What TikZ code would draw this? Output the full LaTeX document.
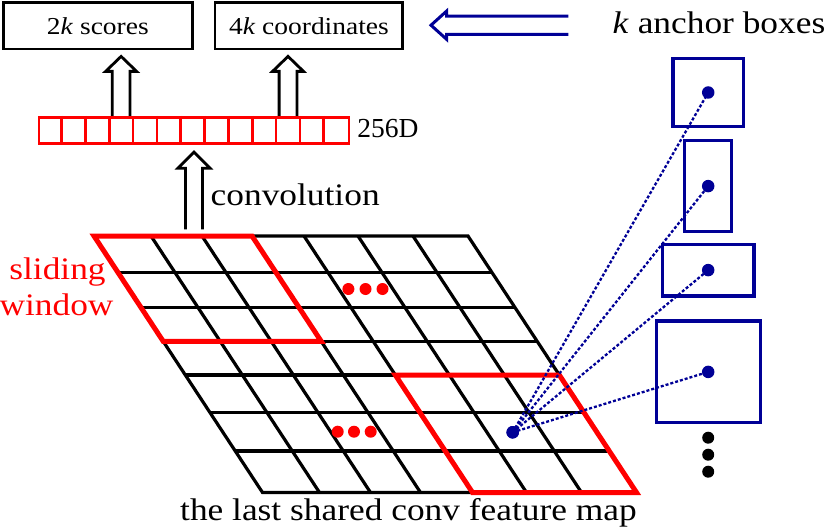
\documentclass[tikz,border=0pt]{standalone}
\usepackage{fontspec}
\setmainfont[FakeStretch=1.13]{Liberation Serif}
\newfontfamily\plainserif{Liberation Serif}
\usetikzlibrary{calc}
\definecolor{ancblue}{RGB}{0,0,150}
\newcommand{\bigtxt}{\fontsize{31.3}{36}\selectfont}
\newcommand{\smalltxt}{\fontsize{24.3}{28}\selectfont}
\newcommand{\HollowUp}[5]{%
  \draw[hollowarrow] let \p1=(#1), \p2=(#2) in
    (\x1-#3pt,\y1) -- (\x1-#3pt,\y2-#5pt) -- (\x1-#4pt,\y2-#5pt) -- (\x1,\y2)
    -- (\x1+#4pt,\y2-#5pt) -- (\x1+#3pt,\y2-#5pt) -- (\x1+#3pt,\y1);}
\begin{document}
\begin{tikzpicture}[x=1pt,y=-1pt,
  gridline/.style={line width=3.2pt, draw=black},
  redwin/.style={line width=5pt, draw=red, line join=miter},
  labelbox/.style={draw=black, line width=2.7pt, inner sep=0pt, minimum height=46.3pt},
  barcell/.style={draw=red, line width=2.7pt},
  hollowarrow/.style={draw=black, line width=2.8pt, line join=miter},
  bluearrow/.style={draw=ancblue, line width=3pt, line join=miter},
  anchorbox/.style={draw=ancblue, line width=3.2pt, inner sep=0pt},
  ancdot/.style={circle, fill=ancblue, inner sep=0pt, minimum size=12.5pt},
  reddot/.style={circle, fill=red, inner sep=0pt, minimum size=12pt},
  blackdot/.style={circle, fill=black, inner sep=0pt, minimum size=12pt},
  ancline/.style={draw=ancblue, line width=2.3pt, dash pattern=on 3pt off 2pt},
  txt/.style={inner sep=0pt, outer sep=0pt}
]
\useasboundingbox (0,0) rectangle (827,532);

% ---------- feature map grid ----------
\def\shear{0.65692}
\foreach \y in {272.3,307.5,341.3,375,412.3,451}
  \draw[gridline] ({94+\shear*(\y-236)},\y) -- ({468+\shear*(\y-236)},\y);
\foreach \t in {151,202,252,304,358,413}
  \draw[gridline] (\t,236) -- (\t+168.5,492.5);
\draw[gridline, line join=miter] (94,236) -- (468,236) -- (636.5,492.5) -- (262.5,492.5) -- cycle;

% sliding windows
\draw[redwin] (94,236) -- (252,236) -- (321.2,341.3) -- (163.2,341.3) -- cycle;
\draw[redwin] (395.3,375) -- (559.3,375) -- (636.5,492.5) -- (472.5,492.5) -- cycle;

% ellipses
\node[reddot] (u1) at (348.4,289) {};
\node[reddot] (u2) at (365.5,289) {};
\node[reddot] (u3) at (382.5,289) {};
\node[reddot] (l1) at (337.7,431.7) {};
\node[reddot] (l2) at (354,431.7) {};
\node[reddot] (l3) at (370.7,431.7) {};

% ---------- texts ----------
\node[txt, anchor=base] (maptxt) at (408.5,520) {\bigtxt the last shared conv feature map};
\node[txt, anchor=base, text=red] (sw1) at (57.5,279) {\bigtxt sliding};
\node[txt, anchor=base, text=red] (sw2) at (56.5,315) {\bigtxt window};
\node[txt, anchor=base west] (convtxt) at (210.7,205) {\bigtxt convolution};
\node[txt, anchor=base west] (anctxt) at (612.7,34) {\bigtxt\textit{k} anchor boxes};

% ---------- output boxes ----------
\node[labelbox, minimum width=189pt] (scores) at (97.8,25.9) {\smalltxt 2\textit{k} scores};
\node[labelbox, minimum width=187.7pt] (coords) at (308.9,25.9) {\smalltxt 4\textit{k} coordinates};

% ---------- 256D bar ----------
\node[draw=red, line width=2.7pt, inner sep=0pt, minimum width=310pt, minimum height=26pt] (bar) at (194,130.3) {};
\foreach \i in {1,...,12}
  \draw[barcell] ($(bar.north west)+(\i*23.846,0)$) -- ($(bar.south west)+(\i*23.846,0)$);
\node[txt, anchor=base west] (dimtxt) at (357.3,138) {\plainserif\fontsize{27.5}{30}\selectfont 256D};

% ---------- hollow arrows ----------
\coordinate (a1b) at ($(bar.north west)+(83.46,0)$);
\coordinate (a1t) at ($(scores.south)+(0,6)$);
\coordinate (a2b) at ($(bar.north west)+(250.38,0)$);
\coordinate (a2t) at ($(coords.south)+(0,6)$);
\coordinate (cvt) at ($(bar.south west)+(155,7.5)$);
\coordinate (cvb) at (194,229.3);
\HollowUp{a1b}{a1t}{8.9}{15.5}{15}
\HollowUp{a2b}{a2t}{8.9}{15.5}{15}
\HollowUp{cvb}{cvt}{8.5}{16}{16}

% blue arrow
\coordinate (bar0) at (568.3,25.2);
\coordinate (btip) at (431,25.2);
\draw[bluearrow] let \p1=(bar0), \p2=(btip) in
  (\x1,\y2+9.1pt) -- (\x2+15.7pt,\y2+9.1pt) -- (\x2+15.7pt,\y2+14.2pt) -- (\x2,\y2)
  -- (\x2+15.7pt,\y2-14.2pt) -- (\x2+15.7pt,\y2-9.1pt) -- (\x1,\y2-9.1pt);

% ---------- anchor boxes ----------
\node[anchorbox, minimum width=70.6pt, minimum height=67.9pt] (anc1) at (708.2,92.5) {};
\node[anchorbox, minimum width=47pt, minimum height=90.6pt] (anc2) at (708.2,186.1) {};
\node[anchorbox, minimum width=91.4pt, minimum height=51.6pt] (anc3) at (708.2,270.1) {};
\node[anchorbox, minimum width=104pt, minimum height=101.8pt] (anc4) at (708.2,371.9) {};

\node[ancdot] (c1) at (anc1.center) {};
\node[ancdot] (c2) at (anc2.center) {};
\node[ancdot] (c3) at (anc3.center) {};
\node[ancdot] (c4) at (anc4.center) {};
\node[ancdot] (gdot) at (512.7,432.3) {};

\foreach \c in {c1,c2,c3,c4}
  \draw[ancline] (gdot.center) -- (\c.center);
\node[ancdot] at (gdot) {};

\node[blackdot] (v1) at (708.2,437.7) {};
\node[blackdot] (v2) at (708.2,454.7) {};
\node[blackdot] (v3) at (708.2,471.7) {};
\end{tikzpicture}
\end{document}
